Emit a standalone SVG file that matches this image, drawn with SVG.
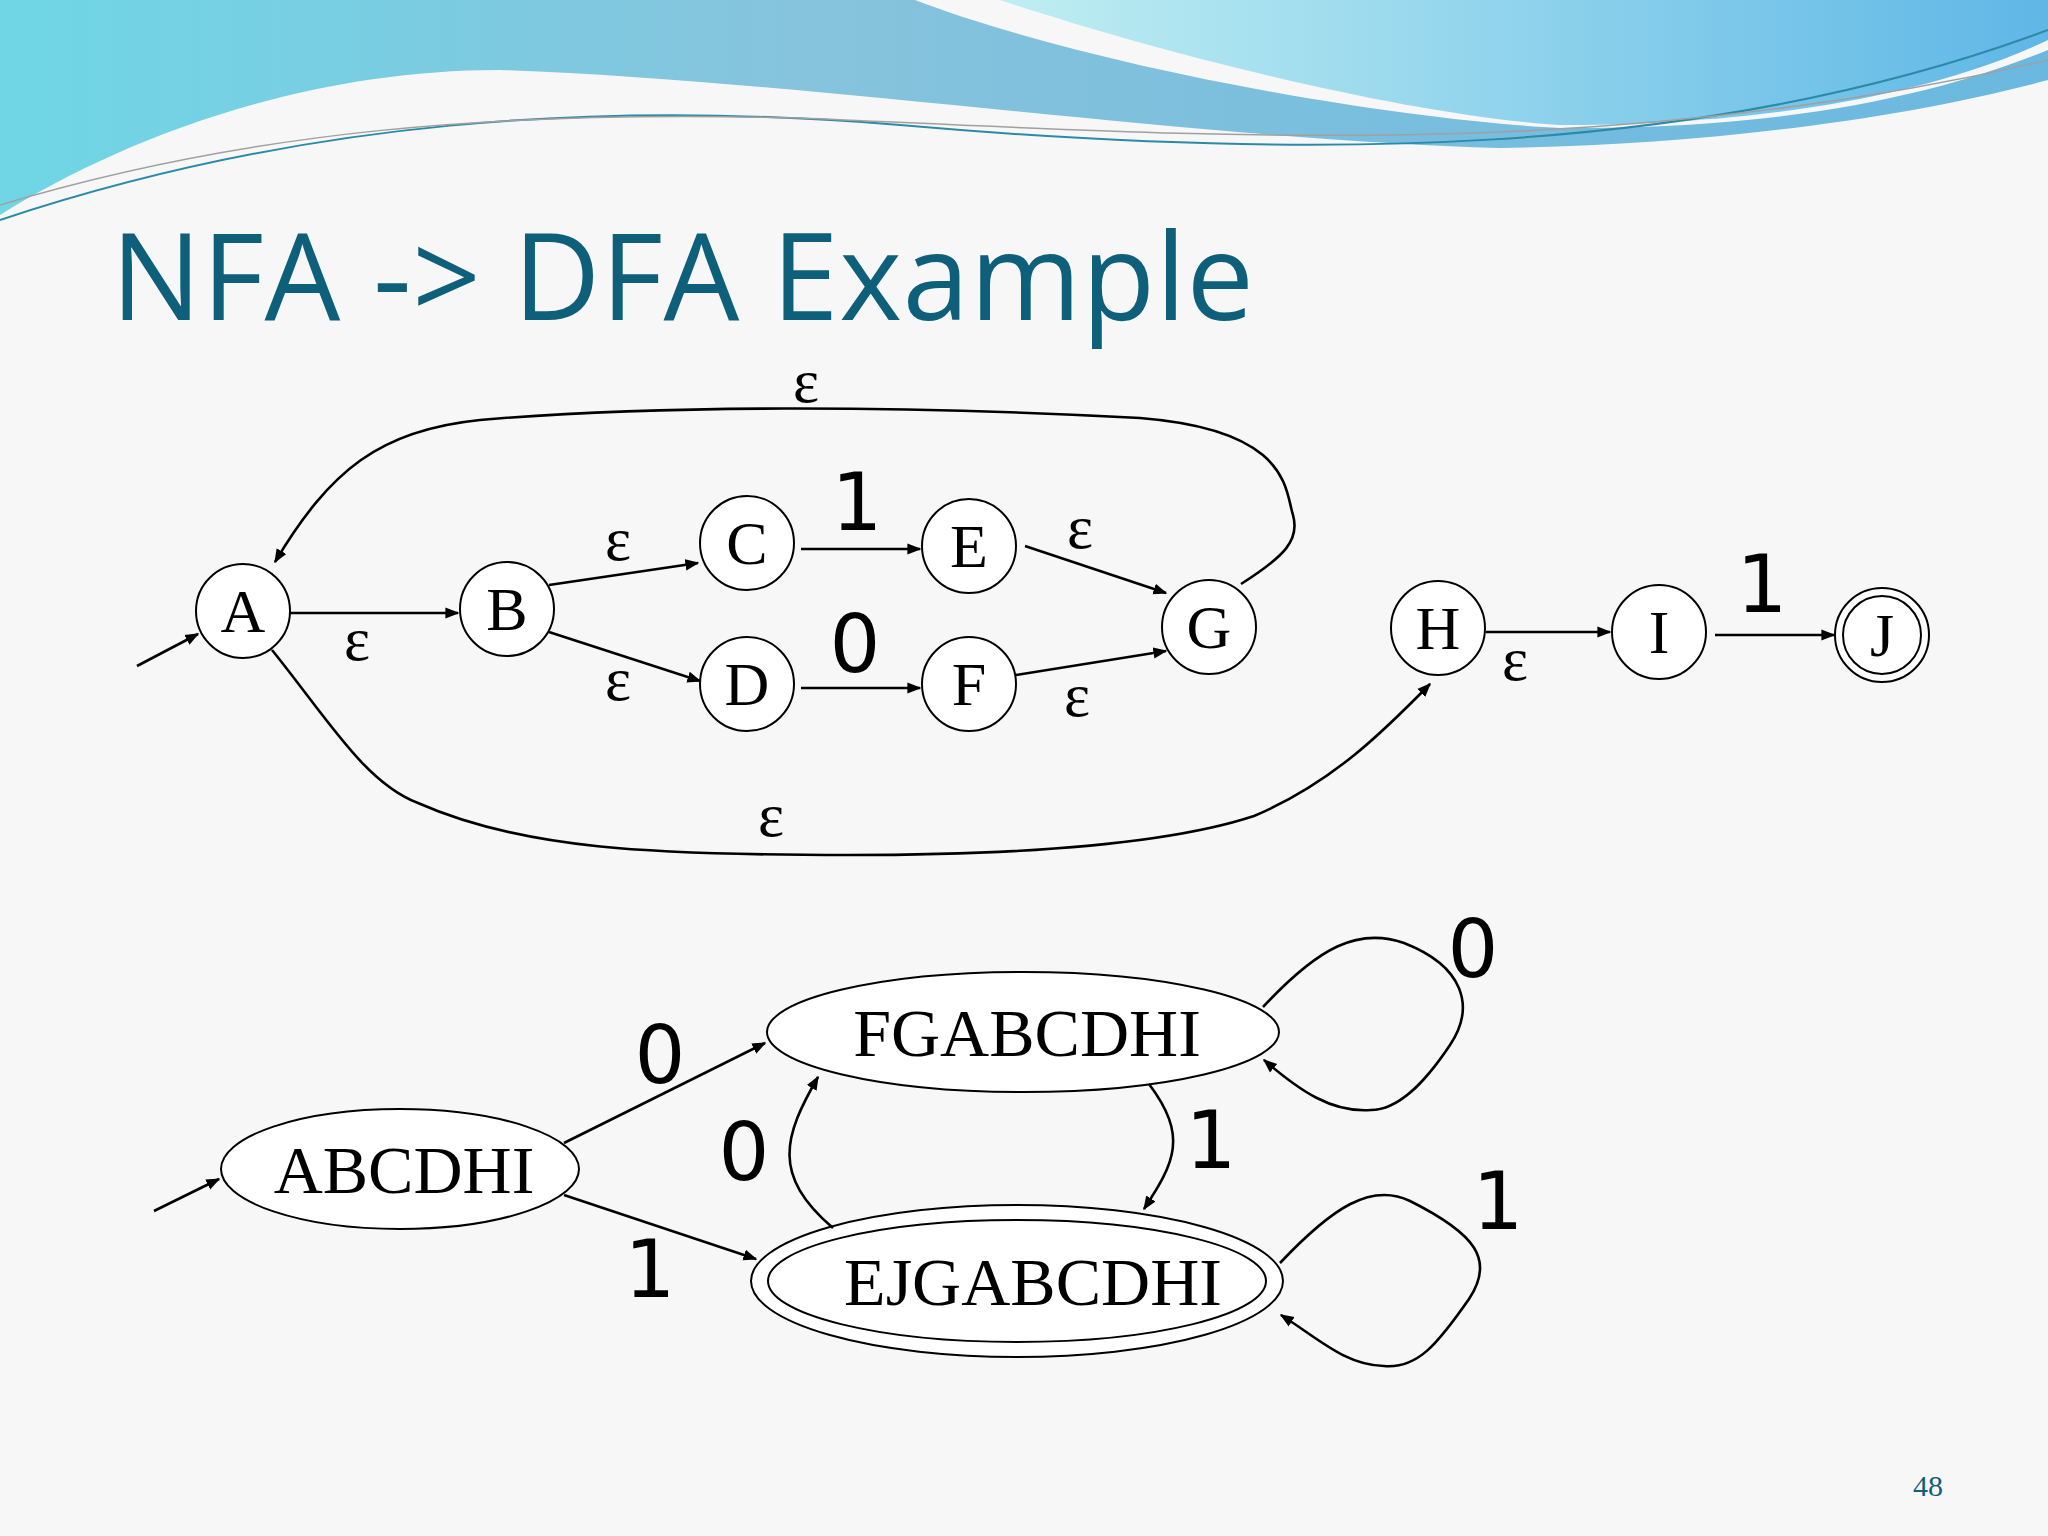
<svg xmlns="http://www.w3.org/2000/svg" width="2048" height="1536" viewBox="0 0 2048 1536">
<defs>
<linearGradient id="hg" x1="0" y1="0" x2="1" y2="0">
<stop offset="0" stop-color="#6fd6e6"/><stop offset="0.4" stop-color="#86c3dc"/><stop offset="1" stop-color="#6ab8e0"/>
</linearGradient>
<linearGradient id="hg2" x1="0" y1="0" x2="1" y2="0">
<stop offset="0" stop-color="#bfeef2"/><stop offset="1" stop-color="#5fb7e6"/>
</linearGradient>
<marker id="ar" viewBox="0 0 10 10" refX="9" refY="5" markerWidth="14" markerHeight="14" markerUnits="userSpaceOnUse" orient="auto"><path d="M0,1 L10,5 L0,9 z" fill="#000"/></marker>
</defs>
<style>
.e{fill:none;stroke:#000;stroke-width:2.6;marker-end:url(#ar)}
.n{fill:#fff;stroke:#000;stroke-width:2}
.t{font-family:"Liberation Serif",serif;fill:#000;text-anchor:middle}
.s{font-family:"Liberation Serif",serif;font-size:62px;text-anchor:middle}
.d{font-family:"DejaVu Sans",sans-serif;font-size:80px;text-anchor:middle}
</style>
<rect width="2048" height="1536" fill="#f7f7f7"/>
<path d="M0,0 H915 C1100,70 1400,120 1560,128 C1800,130 1950,90 2048,50 V80 C1900,120 1700,145 1500,148 C1200,140 800,80 500,70 C300,70 120,140 0,215 Z" fill="url(#hg)"/>
<path d="M1000,0 H2048 V40 C1900,110 1700,125 1560,125 C1400,115 1150,50 1000,0 Z" fill="url(#hg2)"/>
<path d="M0,220 C300,120 600,100 900,125 C1300,160 1700,160 2048,30" fill="none" stroke="#2a8aa8" stroke-width="2"/>
<path d="M0,205 C250,130 500,110 800,118 C1200,135 1600,165 2048,60" fill="none" stroke="#a0a0a0" stroke-width="1.5"/>
<text x="111" y="320" font-family="'Open Sans',sans-serif" font-size="120" fill="#0e5f7a" textLength="1143">NFA -&gt; DFA Example</text>
<g id="A"><circle class="n" cx="243" cy="611" r="47"/><text class="t" x="243" y="632" font-size="62">A</text></g>
<g id="B"><circle class="n" cx="507" cy="609" r="47"/><text class="t" x="507" y="630" font-size="62">B</text></g>
<g id="C"><circle class="n" cx="747" cy="543" r="47"/><text class="t" x="747" y="564" font-size="62">C</text></g>
<g id="D"><circle class="n" cx="747" cy="684" r="47"/><text class="t" x="747" y="705" font-size="62">D</text></g>
<g id="E"><circle class="n" cx="969" cy="546" r="47"/><text class="t" x="969" y="567" font-size="62">E</text></g>
<g id="F"><circle class="n" cx="969" cy="684" r="47"/><text class="t" x="969" y="705" font-size="62">F</text></g>
<g id="G"><circle class="n" cx="1209" cy="627" r="47"/><text class="t" x="1209" y="648" font-size="62">G</text></g>
<g id="H"><circle class="n" cx="1438" cy="628" r="47"/><text class="t" x="1438" y="649" font-size="62">H</text></g>
<g id="I"><circle class="n" cx="1659" cy="632" r="47"/><text class="t" x="1659" y="653" font-size="62">I</text></g>
<g id="J"><circle class="n" cx="1882" cy="635" r="47"/><circle class="n" cx="1882" cy="635" r="39"/><text class="t" x="1882" y="656" font-size="62">J</text></g>
<g id="ABCDHI"><ellipse class="n" cx="400" cy="1169" rx="179" ry="60"/><text class="t" x="404" y="1193" font-size="68">ABCDHI</text></g>
<g id="FGABCDHI"><ellipse class="n" cx="1023" cy="1032" rx="256" ry="60"/><text class="t" x="1027" y="1056" font-size="68">FGABCDHI</text></g>
<g id="EJGABCDHI"><ellipse class="n" cx="1017" cy="1281" rx="266" ry="76"/><ellipse class="n" cx="1017" cy="1281" rx="249" ry="61"/><text class="t" x="1033" y="1305" font-size="68">EJGABCDHI</text></g>
<g id="connectors">
<path class="e" d="M137,666 L198,634"/>
<path class="e" d="M290,613 L458,613"/>
<path class="e" d="M549,585 L698,563"/>
<path class="e" d="M549,632 L700,681"/>
<path class="e" d="M801,549 L920,549"/>
<path class="e" d="M801,688 L920,688"/>
<path class="e" d="M1025,546 L1166,593"/>
<path class="e" d="M1016,675 L1166,651"/>
<path class="e" d="M1241,584 C1285,556 1300,540 1293,515 C1285,490 1290,430 1140,418 C900,405 650,405 480,420 C380,430 330,470 275,562"/>
<path class="e" d="M272,650 C327,718 365,783 418,803 C522,849 650,855 849,855 C1045,855 1175,842 1254,816 C1332,783 1384,731 1430,684"/>
<path class="e" d="M1486,632 L1610,632"/>
<path class="e" d="M1715,635 L1834,635"/>
<path class="e" d="M154,1211 L219,1179"/>
<path class="e" d="M564,1143 L765,1043"/>
<path class="e" d="M564,1195 L756,1259"/>
<path class="e" d="M833,1228 C771,1175 784,1136 818,1077"/>
<path class="e" d="M1149,1084 C1188,1136 1175,1162 1144,1209"/>
<path class="e" d="M1263,1007 C1319,947 1358,927 1404,943 C1463,966 1476,1006 1450,1045 C1424,1084 1398,1110 1371,1110 C1332,1113 1300,1091 1264,1060"/>
<path class="e" d="M1280,1263 C1332,1208 1371,1182 1410,1201 C1476,1234 1495,1260 1469,1299 C1437,1345 1417,1369 1384,1366 C1345,1365 1319,1339 1281,1315"/>
<text class="s" x="806" y="402">ε</text>
<text class="s" x="357" y="660">ε</text>
<text class="s" x="618" y="560">ε</text>
<text class="s" x="618" y="700">ε</text>
<text class="s" x="1080" y="548">ε</text>
<text class="s" x="1077" y="716">ε</text>
<text class="s" x="771" y="836">ε</text>
<text class="s" x="1515" y="680">ε</text>
<text class="d" x="857" y="530">1</text>
<text class="d" x="855" y="672">0</text>
<text class="d" x="1762" y="612">1</text>
<text class="d" x="660" y="1083">0</text>
<text class="d" x="650" y="1297">1</text>
<text class="d" x="744" y="1180">0</text>
<text class="d" x="1211" y="1168">1</text>
<text class="d" x="1473" y="977">0</text>
<text class="d" x="1498" y="1229">1</text>
</g>
<text x="1928" y="1496" font-family="'Liberation Serif',serif" font-size="30" fill="#0e5f7a" text-anchor="middle">48</text>
</svg>
